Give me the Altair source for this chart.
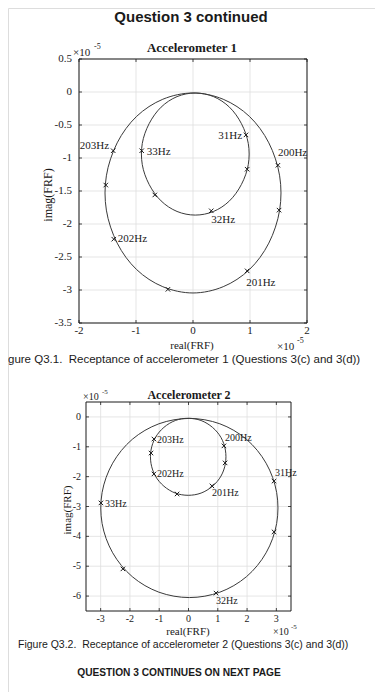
import altair as alt
import pandas as pd

# ---------------- data (values in units of 1e-5) ----------------
# Accelerometer 1: outer loop (~200 Hz mode) and inner loop (~32 Hz mode)
a1_outer_re = [0.0, 0.53, 0.99, 1.33, 1.52, 1.52, 1.33, 0.99, 0.53, 0.0, -0.53, -0.99, -1.33, -1.52, -1.52, -1.33, -0.99, -0.53]
a1_outer_im = [-0.015, -0.11, -0.37, -0.77, -1.27, -1.79, -2.29, -2.69, -2.95, -3.045, -2.95, -2.69, -2.29, -1.79, -1.27, -0.77, -0.37, -0.11]
a1_inner_re = [0.04, 0.36, 0.64, 0.85, 0.97, 0.97, 0.85, 0.64, 0.36, 0.04, -0.28, -0.56, -0.77, -0.89, -0.89, -0.77, -0.56, -0.28]
a1_inner_im = [-0.015, -0.07, -0.23, -0.48, -0.78, -1.10, -1.40, -1.65, -1.81, -1.865, -1.81, -1.65, -1.40, -1.10, -0.78, -0.48, -0.23, -0.07]
a1_mk_re = [-1.40, -0.90, 0.93, 0.95, 1.49, -1.53, -0.67, 0.32, 1.51, -1.39, 0.95, -0.44]
a1_mk_im = [-0.89, -0.89, -0.65, -1.17, -1.11, -1.41, -1.56, -1.80, -1.79, -2.23, -2.71, -2.99]
a1_mk_lab = ["203Hz", "33Hz", "31Hz", "", "200Hz", "", "", "32Hz", "", "202Hz", "201Hz", ""]
a1_xticks = [-2, -1, 0, 1, 2]
a1_xlabels = ["-2", "-1", "0", "1", "2"]
a1_yticks = [0.5, 0, -0.5, -1, -1.5, -2, -2.5, -3, -3.5]
a1_ylabels = ["0.5", "0", "-0.5", "-1", "-1.5", "-2", "-2.5", "-3", "-3.5"]

# Accelerometer 2: outer loop (~32 Hz mode) and inner loop (~200 Hz mode)
a2_outer_re = [0.03, 1.07, 1.98, 2.65, 3.01, 3.01, 2.65, 1.98, 1.07, 0.03, -1.01, -1.92, -2.59, -2.95, -2.95, -2.59, -1.92, -1.01]
a2_outer_im = [-0.05, -0.23, -0.75, -1.55, -2.53, -3.57, -4.55, -5.35, -5.87, -6.05, -5.87, -5.35, -4.55, -3.57, -2.53, -1.55, -0.75, -0.23]
a2_inner_re = [-0.01, 0.43, 0.82, 1.11, 1.26, 1.26, 1.11, 0.82, 0.43, -0.01, -0.45, -0.84, -1.13, -1.28, -1.28, -1.13, -0.84, -0.45]
a2_inner_im = [-0.045, -0.12, -0.35, -0.69, -1.11, -1.56, -1.98, -2.32, -2.55, -2.625, -2.55, -2.32, -1.98, -1.56, -1.11, -0.69, -0.35, -0.12]
a2_mk_re = [-1.18, -1.28, -1.18, -0.39, 0.80, 1.25, 1.21, 2.92, -2.99, -2.24, 0.94, 2.92]
a2_mk_im = [-0.74, -1.21, -1.91, -2.58, -2.31, -1.54, -0.97, -2.15, -2.88, -5.09, -5.90, -3.85]
a2_mk_lab = ["203Hz", "", "202Hz", "", "201Hz", "", "200Hz", "31Hz", "33Hz", "", "32Hz", ""]
a2_xticks = [-3, -2, -1, 0, 1, 2, 3]
a2_xlabels = ["-3", "-2", "-1", "0", "1", "2", "3"]
a2_yticks = [0, -1, -2, -3, -4, -5, -6]
a2_ylabels = ["0", "-1", "-2", "-3", "-4", "-5", "-6"]

# ---------------- layout (page pixels) ----------------
M = 8
def p(v):
    return v - M

SERIF = "Liberation Serif"
SANS = "Liberation Sans"
LINE = "#3a3a3a"
INK = "#1a1a1a"
GRID = "#dedede"
XPATH = "M-1,-1L1,1M-1,1L1,-1"


def one(s):
    return pd.DataFrame({"t": [s]})


def txt(s, x, y, size, font=SERIF, weight="normal", align="center", angle=0, baseline="middle"):
    kw = dict(fontSize=size, font=font, fontWeight=weight, align=align, baseline=baseline, color=INK)
    if angle:
        kw["angle"] = angle
    return alt.Chart(one(s)).mark_text(**kw).encode(
        x=alt.value(p(x)), y=alt.value(p(y)), text="t:N")


def panel(L, R, T, B, xdom, ydom, xt, xl, yt, yl, outer, inner, mk, offsets, lab_size, ylab_gap, xlab_dy, tick_size):
    xs = alt.Scale(domain=xdom, range=[p(L), p(R)], nice=False, zero=False)
    ys = alt.Scale(domain=ydom, range=[p(B), p(T)], nice=False, zero=False)
    X = lambda f: alt.X(f, scale=xs, axis=None)
    Y = lambda f: alt.Y(f, scale=ys, axis=None)
    dxt = pd.DataFrame({"v": xt, "s": xl})
    dyt = pd.DataFrame({"v": yt, "s": yl})
    layers = []
    layers.append(alt.Chart(dxt).mark_rule(color=GRID, strokeWidth=0.8).encode(
        x=X("v:Q"), y=alt.value(p(T)), y2=alt.value(p(B))))
    layers.append(alt.Chart(dyt).mark_rule(color=GRID, strokeWidth=0.8).encode(
        y=Y("v:Q"), x=alt.value(p(L)), x2=alt.value(p(R))))
    # inward ticks
    for (a, b) in [(p(B), p(B) - 3), (p(T), p(T) + 3)]:
        layers.append(alt.Chart(dxt).mark_rule(color=INK, strokeWidth=0.8).encode(
            x=X("v:Q"), y=alt.value(a), y2=alt.value(b)))
    for (a, b) in [(p(L), p(L) + 3), (p(R), p(R) - 3)]:
        layers.append(alt.Chart(dyt).mark_rule(color=INK, strokeWidth=0.8).encode(
            y=Y("v:Q"), x=alt.value(a), x2=alt.value(b)))
    # tick labels
    layers.append(alt.Chart(dxt).mark_text(font=SERIF, fontSize=tick_size, color=INK, baseline="middle").encode(
        x=X("v:Q"), y=alt.value(p(B + xlab_dy)), text="s:N"))
    layers.append(alt.Chart(dyt).mark_text(font=SERIF, fontSize=tick_size, color=INK, align="right", baseline="middle").encode(
        y=Y("v:Q"), x=alt.value(p(L - ylab_gap)), text="s:N"))
    # box
    layers.append(alt.Chart(one("")).mark_rect(fillOpacity=0, stroke=INK, strokeWidth=1).encode(
        x=alt.value(p(L)), x2=alt.value(p(R)), y=alt.value(p(T)), y2=alt.value(p(B))))
    # loops
    for re, im in (outer, inner):
        d = pd.DataFrame({"re": re, "im": im, "i": list(range(len(re)))})
        layers.append(alt.Chart(d).mark_line(interpolate="cardinal-closed", color=LINE, strokeWidth=1).encode(
            x=X("re:Q"), y=Y("im:Q"), order="i:Q"))
    # markers
    dm = pd.DataFrame({"re": mk[0], "im": mk[1], "lab": mk[2]})
    layers.append(alt.Chart(dm).mark_point(shape=XPATH, size=20, filled=False, color=INK, strokeWidth=1, opacity=1).encode(
        x=X("re:Q"), y=Y("im:Q")))
    # frequency labels
    for lab, (al, dx, dy) in offsets.items():
        row = dm[dm["lab"] == lab]
        layers.append(alt.Chart(row).mark_text(font=SERIF, fontSize=lab_size, color=INK, align=al, dx=dx, dy=dy,
                                               baseline="middle").encode(
            x=X("re:Q"), y=Y("im:Q"), text="lab:N"))
    return alt.layer(*layers)


off1 = {"203Hz": ("right", -4, -5), "33Hz": ("left", 5, 1), "31Hz": ("right", -4, 1),
        "200Hz": ("left", 0, -12), "32Hz": ("left", 0, 9), "202Hz": ("left", 4, 0), "201Hz": ("left", -1, 12)}
off2 = {"203Hz": ("left", 3, 1), "202Hz": ("left", 3, 0), "200Hz": ("left", 1, -8), "201Hz": ("left", 0, 7),
        "31Hz": ("left", 1, -8), "33Hz": ("left", 4, 1), "32Hz": ("left", 0, 8)}

panel1 = panel(79, 307, 59, 323, [-2, 2], [-3.5, 0.5], a1_xticks, a1_xlabels, a1_yticks, a1_ylabels,
               (a1_outer_re, a1_outer_im), (a1_inner_re, a1_inner_im), (a1_mk_re, a1_mk_im, a1_mk_lab),
               off1, 11, 7, 8, 11)
panel2 = panel(86, 291, 402, 611, [-3.5, 3.5], [-6.5, 0.5], a2_xticks, a2_xlabels, a2_yticks, a2_ylabels,
               (a2_outer_re, a2_outer_im), (a2_inner_re, a2_inner_im), (a2_mk_re, a2_mk_im, a2_mk_lab),
               off2, 10, 5, 8, 10)

texts = [
    txt("Question 3 continued", 191, 17, 15, font=SANS, weight="bold"),
    txt("Accelerometer 1", 192, 48, 13, weight="bold"),
    txt("\u00d710", 73, 53, 11, align="left"),
    txt("-5", 94, 47, 8, align="left"),
    txt("imag(FRF)", 48, 195, 12, angle=270),
    txt("real(FRF)", 192, 346, 11),
    txt("\u00d710", 277, 347, 11, align="left"),
    txt("-5", 297, 341, 8, align="left"),
    txt("gure Q3.1.\u00a0 Receptance of accelerometer 1 (Questions 3(c) and 3(d))", 8, 360, 11.5, font=SANS, align="left"),
    txt("Accelerometer 2", 189, 395, 12, weight="bold"),
    txt("\u00d710", 83, 397, 10, align="left"),
    txt("-5", 102, 392, 7, align="left"),
    txt("imag(FRF)", 68, 510, 11, angle=270),
    txt("real(FRF)", 188, 632, 11),
    txt("\u00d710", 273, 632, 10, align="left"),
    txt("-5", 291, 627, 7, align="left"),
    txt("Figure Q3.2.\u00a0 Receptance of accelerometer 2 (Questions 3(c) and 3(d))", 18, 645, 10.5, font=SANS, align="left"),
    txt("QUESTION 3 CONTINUES ON NEXT PAGE", 179, 673, 10.2, font=SANS, weight="bold"),
]

chart = alt.layer(panel1, panel2, *texts).resolve_scale(x="independent", y="independent").properties(
    width=367, height=684, autosize=alt.AutoSizeParams(type="none"), padding=0
).configure_view(stroke=None).configure(background="white")

chart.save("out.html", embed_options={"renderer": "svg", "actions": False})
